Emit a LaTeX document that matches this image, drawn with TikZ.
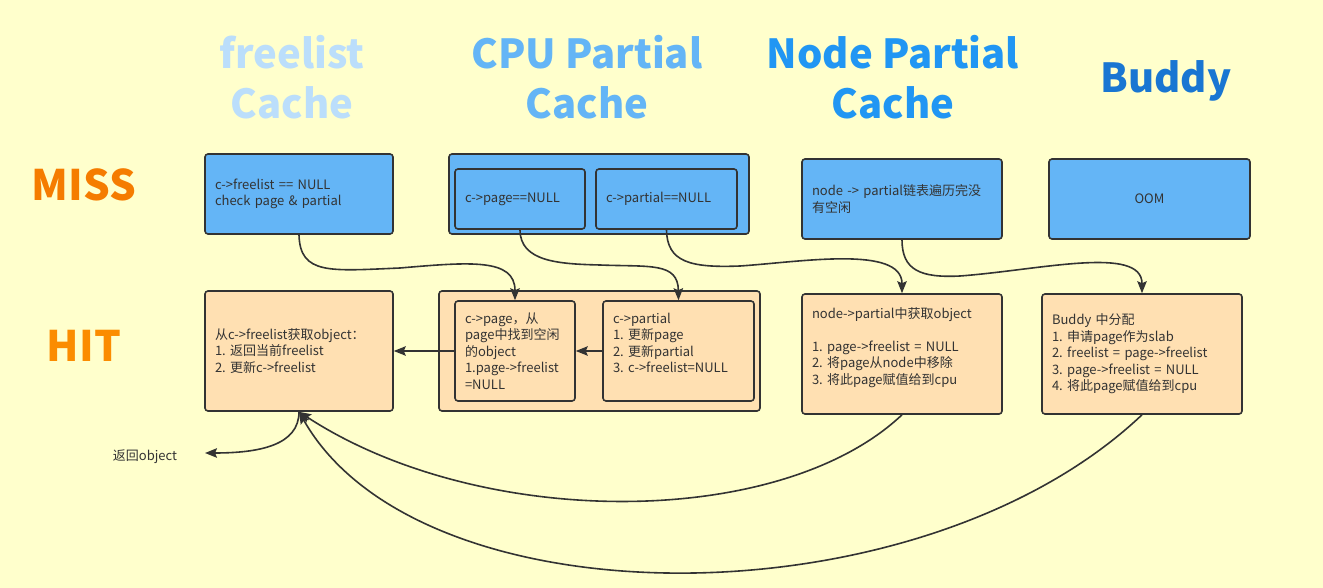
\documentclass[tikz,border=0pt]{standalone}
\usepackage{fontspec}
\setmainfont{Noto Sans CJK SC}
\usepackage{tikz}
\usetikzlibrary{arrows.meta,positioning}
\frenchspacing
\definecolor{bgc}{HTML}{FFFFCC}
\definecolor{edgec}{HTML}{333333}
\definecolor{textc}{HTML}{333333}
\definecolor{missblue}{HTML}{64B5F6}
\definecolor{hitorange}{HTML}{FFE0B2}
\definecolor{tone}{HTML}{BBDEFB}
\definecolor{ttwo}{HTML}{64B5F6}
\definecolor{tthree}{HTML}{2196F3}
\definecolor{tfour}{HTML}{1976D2}
\definecolor{missc}{HTML}{F57C00}
\definecolor{hitc}{HTML}{FB8C00}
\newcommand\cellfont{\fontsize{13}{16.5}\selectfont}
\newcommand\titlefont{\bfseries\fontsize{40}{50}\selectfont}

\begin{document}
\begin{tikzpicture}[x=1pt,y=-1pt,
    flow/.style={draw=edgec,line width=1.6pt,-{Stealth[length=12pt,width=9.5pt,inset=2pt]}}]%
        \fill[bgc] (0,0) rectangle (1323,588); %%
        \useasboundingbox (0,0) rectangle (1323,588); %%
        \begin{scope}
        \tikzstyle{every node}=[font=\titlefont,align=center,inner sep=0pt] %%
        \node[text=tone] (tfree) at (292,77) {freelist\\Cache}; %%
        \node[text=ttwo] (tcpu) at (587,77) {CPU Partial\\Cache}; %%
        \node[text=tthree] (tnode) at (893,77) {Node Partial\\Cache}; %%
        \node[text=tfour,anchor=base] (tbuddy) at (1166,93) {Buddy}; %%
        \end{scope}
        \begin{scope}
        \tikzstyle{every node}=[font=\bfseries\fontsize{42}{50}\selectfont,inner sep=0pt] %%
        \node[text=missc] (lmiss) at (84,185) {MISS}; %%
        \node[text=hitc] (lhit) at (84,346) {HIT}; %%
        \end{scope}
        \begin{scope}
        \tikzstyle{every node}=[draw=edgec,fill=missblue,text=textc,line width=1.6pt,
            rounded corners=3pt,font=\cellfont,align=left,inner xsep=10pt,inner ysep=0pt] %%
        \node[minimum width=188pt,minimum height=80pt,text width=168pt] (fm) at (299,194)
            {c->freelist == NULL\\check page \& partial}; %%
        \node[minimum width=300pt,minimum height=80pt] (cm) at (599,194) {}; %%
        \node[minimum width=130pt,minimum height=60pt,text width=110pt] (cmp) at (520,199)
            {c->page==NULL}; %%
        \node[minimum width=141pt,minimum height=60pt,text width=121pt] (cmq) at (666.5,199)
            {c->partial==NULL}; %%
        \node[minimum width=200pt,minimum height=80pt,text width=180pt] (nm) at (902,199)
            {node -> partial链表遍历完没\\有空闲}; %%
        \node[minimum width=201pt,minimum height=80pt,align=center] (bm) at (1149.5,199)
            {OOM}; %%
        \end{scope}
        \begin{scope}
        \tikzstyle{every node}=[draw=edgec,fill=hitorange,text=textc,line width=1.6pt,
            rounded corners=3pt,font=\cellfont,align=left,inner xsep=10pt,inner ysep=0pt] %%
        \node[minimum width=188pt,minimum height=120pt,text width=168pt] (fh) at (299,351)
            {从c->freelist获取object：\\1. 返回当前freelist\\2. 更新c->freelist}; %%
        \node[minimum width=321pt,minimum height=120pt] (ch) at (599.5,351) {}; %%
        \node[minimum width=120pt,minimum height=100pt,text width=100pt] (chp) at (515,351)
            {c->page，从\\page中找到空闲\\的object\\1.page->freelist\\=NULL}; %%
        \node[minimum width=151pt,minimum height=100pt,text width=131pt] (chq) at (678.5,351)
            {c->partial\\1. 更新page\\2. 更新partial\\3. c->freelist=NULL\\\mbox{}}; %%
        \node[minimum width=200pt,minimum height=120pt,text width=180pt] (nh) at (902,354)
            {node->partial中获取object\\\mbox{}\\1. page->freelist = NULL\\2. 将page从node中移除\\3. 将此page赋值给到cpu\\\mbox{}}; %%
        \node[minimum width=200pt,minimum height=120pt,text width=180pt] (bh) at (1142,354)
            {Buddy 中分配\\1. 申请page作为slab\\2. freelist = page->freelist\\3. page->freelist = NULL\\4. 将此page赋值给到cpu}; %%
        \end{scope}
        \node[font=\cellfont,text=textc] (ret) at (145,457) {返回object}; %%
        \coordinate (retend) at (205,453); %%
        \draw[flow] (fm.south) .. controls (300,275) and (330,271) .. (400,268)
            .. controls (470,262) and (515,258) .. (chp.north); %%
        \draw[flow] (cmp.south) .. controls (520,262) and (560,264) .. (600,265)
            .. controls (650,267) and (678,262) .. (chq.north); %%
        \draw[flow] (cmq.south) .. controls (667,262) and (690,268) .. (740,266)
            .. controls (800,262) and (902,245) .. (nh.north); %%
        \draw[flow] (nm.south) .. controls (902,270) and (920,278) .. (960,276)
            .. controls (1040,270) and (1142,245) .. (bh.north); %%
        \draw[flow] (chq.west)--(chp.east); %%
        \draw[flow] (chp.west)--(fh.east); %%
        \draw[flow] (nh.south) .. controls (780,530) and (480,530) .. (fh.south); %%
        \draw[flow] (bh.south) .. controls (920,625) and (420,625) .. (fh.south); %%
        \draw[flow] (fh.south) .. controls (299,445) and (260,453) .. (retend); %%
\end{tikzpicture}
\end{document}
